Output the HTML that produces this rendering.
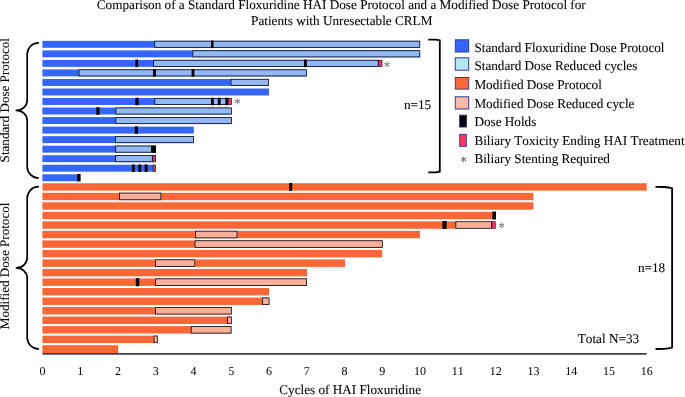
<!DOCTYPE html>
<html><head><meta charset="utf-8"><title>Comparison of Floxuridine HAI Dose Protocols</title>
<style>html,body{margin:0;padding:0;background:#fff}svg{display:block}text{stroke:#000;stroke-width:.07px;font-kerning:none}text.st{stroke:none}</style></head>
<body>
<svg width="685" height="397" viewBox="0 0 685 397" font-family="'Liberation Serif', serif" font-size="13.2" fill="#000" text-rendering="geometricPrecision">
<rect width="685" height="397" fill="#fff"/>
<rect x="42.40" y="40.85" width="377.60" height="6.95" fill="#3565f6"/>
<rect x="154.73" y="41.17" width="265.05" height="6.20" fill="#93b9f4" stroke="#11151f" stroke-width="0.85"/>
<rect x="211.00" y="40.55" width="2.50" height="7.55" fill="#000"/>
<rect x="42.40" y="50.38" width="377.60" height="6.95" fill="#3565f6"/>
<rect x="192.83" y="50.70" width="226.95" height="6.20" fill="#93b9f4" stroke="#11151f" stroke-width="0.85"/>
<rect x="42.40" y="59.91" width="337.60" height="6.95" fill="#3565f6"/>
<rect x="153.43" y="60.23" width="224.75" height="6.20" fill="#93b9f4" stroke="#11151f" stroke-width="0.85"/>
<rect x="378.75" y="60.26" width="3.30" height="6.25" fill="#fb3468" stroke="#11151f" stroke-width="0.7"/>
<rect x="135.40" y="59.61" width="2.70" height="7.55" fill="#000"/>
<rect x="304.00" y="59.61" width="2.80" height="7.55" fill="#000"/>
<text class="st" transform="translate(383.68,72.05) scale(0.91,1.15)" font-size="14" fill="#6a6a6a">*</text>
<rect x="42.40" y="69.44" width="263.60" height="6.95" fill="#3565f6"/>
<rect x="79.02" y="69.77" width="227.55" height="6.20" fill="#93b9f4" stroke="#11151f" stroke-width="0.85"/>
<rect x="153.10" y="69.14" width="2.90" height="7.55" fill="#000"/>
<rect x="191.60" y="69.14" width="2.80" height="7.55" fill="#000"/>
<rect x="42.40" y="78.97" width="225.60" height="6.95" fill="#3565f6"/>
<rect x="231.03" y="79.30" width="37.55" height="6.20" fill="#93b9f4" stroke="#11151f" stroke-width="0.85"/>
<rect x="42.40" y="88.50" width="226.60" height="6.95" fill="#3565f6"/>
<rect x="42.40" y="98.03" width="187.60" height="6.95" fill="#3565f6"/>
<rect x="154.83" y="98.36" width="73.05" height="6.20" fill="#93b9f4" stroke="#11151f" stroke-width="0.85"/>
<rect x="228.05" y="98.38" width="3.40" height="6.25" fill="#fb3468" stroke="#11151f" stroke-width="0.7"/>
<rect x="135.40" y="97.73" width="3.20" height="7.55" fill="#000"/>
<rect x="211.00" y="97.73" width="2.80" height="7.55" fill="#000"/>
<rect x="217.80" y="97.73" width="2.80" height="7.55" fill="#000"/>
<rect x="225.40" y="97.73" width="2.40" height="7.55" fill="#000"/>
<text class="st" transform="translate(234.23,109.45) scale(0.91,1.15)" font-size="14" fill="#6a6a6a">*</text>
<rect x="42.40" y="107.56" width="187.60" height="6.95" fill="#3565f6"/>
<rect x="115.92" y="107.89" width="115.55" height="6.20" fill="#93b9f4" stroke="#11151f" stroke-width="0.85"/>
<rect x="96.40" y="107.26" width="3.10" height="7.55" fill="#000"/>
<rect x="42.40" y="117.09" width="187.60" height="6.95" fill="#3565f6"/>
<rect x="115.83" y="117.42" width="115.65" height="6.20" fill="#93b9f4" stroke="#11151f" stroke-width="0.85"/>
<rect x="42.40" y="126.62" width="151.40" height="6.95" fill="#3565f6"/>
<rect x="134.80" y="126.32" width="3.20" height="7.55" fill="#000"/>
<rect x="42.40" y="136.15" width="150.60" height="6.95" fill="#3565f6"/>
<rect x="115.42" y="136.48" width="78.15" height="6.20" fill="#93b9f4" stroke="#11151f" stroke-width="0.85"/>
<rect x="42.40" y="145.68" width="111.60" height="6.95" fill="#3565f6"/>
<rect x="115.42" y="146.01" width="35.95" height="6.20" fill="#93b9f4" stroke="#11151f" stroke-width="0.85"/>
<rect x="151.40" y="145.38" width="4.60" height="7.55" fill="#000"/>
<rect x="42.40" y="155.21" width="111.60" height="6.95" fill="#3565f6"/>
<rect x="115.42" y="155.53" width="36.95" height="6.20" fill="#93b9f4" stroke="#11151f" stroke-width="0.85"/>
<rect x="152.85" y="155.56" width="2.80" height="6.25" fill="#fb3468" stroke="#11151f" stroke-width="0.7"/>
<rect x="42.40" y="164.74" width="111.60" height="6.95" fill="#3565f6"/>
<rect x="153.15" y="165.09" width="2.50" height="6.25" fill="#fb3468" stroke="#11151f" stroke-width="0.7"/>
<rect x="132.00" y="164.44" width="2.70" height="7.55" fill="#000"/>
<rect x="138.40" y="164.44" width="2.80" height="7.55" fill="#000"/>
<rect x="144.70" y="164.44" width="2.90" height="7.55" fill="#000"/>
<rect x="42.40" y="174.27" width="35.60" height="6.95" fill="#3565f6"/>
<rect x="77.20" y="173.97" width="3.40" height="7.55" fill="#000"/>
<rect x="42.40" y="183.25" width="604.30" height="7.4" fill="#fa6737"/>
<rect x="289.20" y="182.95" width="3.00" height="8.00" fill="#000"/>
<rect x="42.40" y="192.78" width="491.00" height="7.4" fill="#fa6737"/>
<rect x="119.42" y="193.10" width="41.45" height="6.65" fill="#f8b09b" stroke="#11151f" stroke-width="0.85"/>
<rect x="42.40" y="202.30" width="491.00" height="7.4" fill="#fa6737"/>
<rect x="42.40" y="211.82" width="451.60" height="7.4" fill="#fa6737"/>
<rect x="492.40" y="211.52" width="3.60" height="8.00" fill="#000"/>
<rect x="42.40" y="221.35" width="413.60" height="7.4" fill="#fa6737"/>
<rect x="455.82" y="221.68" width="35.65" height="6.65" fill="#f8b09b" stroke="#11151f" stroke-width="0.85"/>
<rect x="491.95" y="221.70" width="3.30" height="6.70" fill="#fb3468" stroke="#11151f" stroke-width="0.7"/>
<rect x="442.40" y="221.05" width="4.20" height="8.00" fill="#000"/>
<text class="st" transform="translate(498.58,232.65) scale(0.91,1.15)" font-size="14" fill="#6a6a6a">*</text>
<rect x="42.40" y="230.88" width="377.60" height="7.4" fill="#fa6737"/>
<rect x="195.43" y="231.20" width="41.55" height="6.65" fill="#f8b09b" stroke="#11151f" stroke-width="0.85"/>
<rect x="42.40" y="240.40" width="339.60" height="7.4" fill="#fa6737"/>
<rect x="195.03" y="240.73" width="187.35" height="6.65" fill="#f8b09b" stroke="#11151f" stroke-width="0.85"/>
<rect x="42.40" y="249.93" width="339.80" height="7.4" fill="#fa6737"/>
<rect x="42.40" y="259.45" width="302.60" height="7.4" fill="#fa6737"/>
<rect x="155.53" y="259.77" width="39.25" height="6.65" fill="#f8b09b" stroke="#11151f" stroke-width="0.85"/>
<rect x="42.40" y="268.98" width="264.60" height="7.4" fill="#fa6737"/>
<rect x="42.40" y="278.50" width="263.60" height="7.4" fill="#fa6737"/>
<rect x="155.53" y="278.82" width="151.05" height="6.65" fill="#f8b09b" stroke="#11151f" stroke-width="0.85"/>
<rect x="135.80" y="278.20" width="3.50" height="8.00" fill="#000"/>
<rect x="42.40" y="288.02" width="226.60" height="7.4" fill="#fa6737"/>
<rect x="42.40" y="297.55" width="225.60" height="7.4" fill="#fa6737"/>
<rect x="262.62" y="297.88" width="6.45" height="6.65" fill="#f8b09b" stroke="#11151f" stroke-width="0.85"/>
<rect x="42.40" y="307.07" width="188.60" height="7.4" fill="#fa6737"/>
<rect x="155.53" y="307.40" width="75.85" height="6.65" fill="#f8b09b" stroke="#11151f" stroke-width="0.85"/>
<rect x="42.40" y="316.60" width="188.60" height="7.4" fill="#fa6737"/>
<rect x="227.62" y="316.93" width="3.75" height="6.65" fill="#f8b09b" stroke="#11151f" stroke-width="0.85"/>
<rect x="42.40" y="326.12" width="188.60" height="7.4" fill="#fa6737"/>
<rect x="191.23" y="326.45" width="39.95" height="6.65" fill="#f8b09b" stroke="#11151f" stroke-width="0.85"/>
<rect x="42.40" y="335.65" width="113.60" height="7.4" fill="#fa6737"/>
<rect x="154.03" y="335.97" width="3.35" height="6.65" fill="#f8b09b" stroke="#11151f" stroke-width="0.85"/>
<rect x="42.40" y="345.18" width="75.80" height="7.9" fill="#fa6737"/>
<line x1="42.4" y1="353.9" x2="646.7" y2="353.9" stroke="#3f4144" stroke-width="1.65"/>
<text x="42.40" class="st" y="374.5" font-size="12" text-anchor="middle">0</text>
<text x="80.17" class="st" y="374.5" font-size="12" text-anchor="middle">1</text>
<text x="117.94" class="st" y="374.5" font-size="12" text-anchor="middle">2</text>
<text x="155.71" class="st" y="374.5" font-size="12" text-anchor="middle">3</text>
<text x="193.48" class="st" y="374.5" font-size="12" text-anchor="middle">4</text>
<text x="231.25" class="st" y="374.5" font-size="12" text-anchor="middle">5</text>
<text x="269.02" class="st" y="374.5" font-size="12" text-anchor="middle">6</text>
<text x="306.79" class="st" y="374.5" font-size="12" text-anchor="middle">7</text>
<text x="344.56" class="st" y="374.5" font-size="12" text-anchor="middle">8</text>
<text x="382.33" class="st" y="374.5" font-size="12" text-anchor="middle">9</text>
<text x="420.10" class="st" y="374.5" font-size="12" text-anchor="middle">10</text>
<text x="457.87" class="st" y="374.5" font-size="12" text-anchor="middle">11</text>
<text x="495.64" class="st" y="374.5" font-size="12" text-anchor="middle">12</text>
<text x="533.41" class="st" y="374.5" font-size="12" text-anchor="middle">13</text>
<text x="571.18" class="st" y="374.5" font-size="12" text-anchor="middle">14</text>
<text x="608.95" class="st" y="374.5" font-size="12" text-anchor="middle">15</text>
<text x="646.72" class="st" y="374.5" font-size="12" text-anchor="middle">16</text>
<text x="350.2" y="393.5" text-anchor="middle">Cycles of HAI Floxuridine</text>
<text x="96.8" y="8.8">Comparison of a Standard Floxuridine HAI Dose Protocol and a Modified Dose Protocol for</text>
<text x="251.1" y="24.8">Patients with Unresectable CRLM</text>
<text transform="translate(8.7,100.2) rotate(-90)" font-size="13.1" text-anchor="middle">Standard Dose Protocol</text>
<text transform="translate(8.7,265.9) rotate(-90)" font-size="13.1" text-anchor="middle">Modified Dose Protocol</text>
<path d="M38.3,42.85 A11.1,11.5 0 0 0 27.2,54.35 L27.2,100.17 A10.8,10.25 0 0 1 16.4,110.42 A10.8,10.25 0 0 1 27.2,120.67 L27.2,166.5 A11.1,11.5 0 0 0 38.3,178.0" fill="none" stroke="#000" stroke-width="1.7" stroke-linecap="round" stroke-linejoin="round"/>
<path d="M38.3,186.7 A11.1,11.5 0 0 0 27.2,198.2 L27.2,257.55 A10.8,10.25 0 0 1 16.4,267.80 A10.8,10.25 0 0 1 27.2,278.05 L27.2,337.4 A11.1,11.5 0 0 0 38.3,348.9" fill="none" stroke="#000" stroke-width="1.7" stroke-linecap="round" stroke-linejoin="round"/>
<path d="M428.3,39.6 L435,39.6 Q438,39.7 439.8,40.4 L439.8,171.7 Q438,172.3 435,172.4 L428.3,172.4" fill="none" stroke="#000" stroke-width="1.8" stroke-linejoin="miter"/>
<path d="M655.5,186.9 L664,187.0 Q669,187.4 672.1,188.4 L672.1,347.5 Q669,348.5 664,348.9 L655.5,349" fill="none" stroke="#000" stroke-width="1.8" stroke-linejoin="miter"/>
<text x="403.9" y="108.7">n=15</text>
<text x="638" y="271.8">n=18</text>
<text x="577.8" y="343.2">Total N=33</text>
<rect x="455.3" y="39.80" width="13.4" height="12.20" fill="#3565f6" stroke="#323f88" stroke-width="1"/>
<rect x="455.3" y="57.80" width="13.4" height="12.40" fill="#b3e6f8" stroke="#323f88" stroke-width="1"/>
<rect x="455.3" y="77.50" width="13.4" height="11.60" fill="#fa6737" stroke="#323f88" stroke-width="1"/>
<rect x="455.3" y="96.80" width="13.4" height="12.20" fill="#f7bba8" stroke="#323f88" stroke-width="1"/>
<rect x="459.7" y="115.2" width="6.7" height="11.8" fill="#050508" stroke="#1a2a60" stroke-width="0.9"/>
<rect x="459.7" y="134.3" width="6.7" height="12.1" fill="#fb3468" stroke="#323f88" stroke-width="0.9"/>
<text class="st" transform="translate(460.48,166.65) scale(0.91,1.15)" font-size="14" fill="#555">*</text>
<text x="474.4" y="51.8">Standard Floxuridine Dose Protocol</text>
<text x="474.4" y="70.2">Standard Dose Reduced cycles</text>
<text x="474.4" y="88.9">Modified Dose Protocol</text>
<text x="474.4" y="107.5">Modified Dose Reduced cycle</text>
<text x="474.4" y="125.8">Dose Holds</text>
<text x="474.4" y="144.6">Biliary Toxicity Ending HAI Treatment</text>
<text x="474.4" y="163.2">Biliary Stenting Required</text>
</svg>
</body></html>
